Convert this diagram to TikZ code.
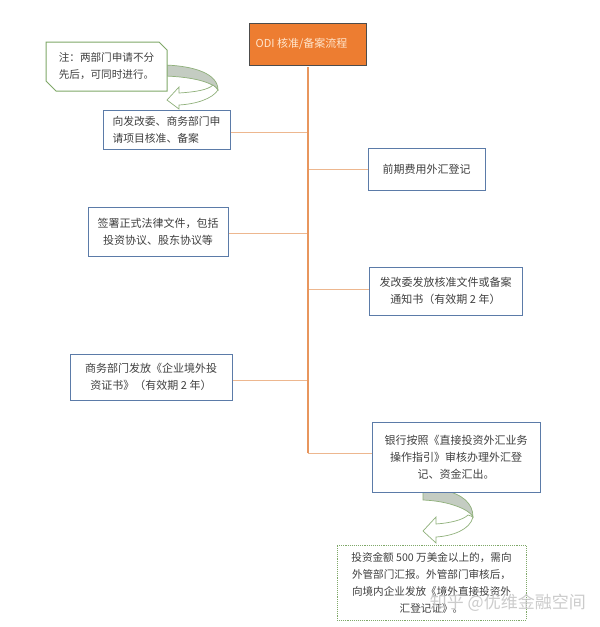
\documentclass[tikz,border=0pt]{standalone}
\usepackage{fontspec}
\setmainfont{Noto Sans CJK SC}
\definecolor{boxblue}{HTML}{5B7BA8}
\definecolor{linkor}{HTML}{EDB78F}
\definecolor{spinecol}{HTML}{E8965E}
\definecolor{arrgreen}{HTML}{8FB07A}
\definecolor{bandgray}{HTML}{C4CCC2}
\definecolor{notegreen}{HTML}{7FA868}
\definecolor{odiorange}{HTML}{ED7D31}
\begin{document}
\begin{tikzpicture}[x=1pt,y=-1pt,
  every node/.style={inner sep=0pt,align=center,font=\fontsize{11}{17}\selectfont,text=black!75},
  bluebox/.style={draw=boxblue,line width=1pt,fill=white},
  link/.style={draw=linkor,line width=1pt},
  spine/.style={draw=spinecol,line width=2pt},
  band/.style={draw=arrgreen,line width=0.7pt,fill=bandgray},
  head/.style={draw=arrgreen,line width=0.7pt,fill=white}]
\useasboundingbox (0,0) rectangle (600,627);
\fill[white] (0,0) rectangle (600,627);
% curved arrow 1
\path[band] (165,65) .. controls (195,66) and (218,74) .. (218,90) .. controls (214,83) and (195,77) .. (165,76) -- cycle;
\path[head] (167,100) -- (179,87) -- (179,93) .. controls (195,92) and (208,90) .. (213,85) .. controls (215,87) and (217,88) .. (218,90) .. controls (212,99) and (196,104) .. (179,105) -- (179,109) -- cycle;
% curved arrow 2
\path[band] (423,490) -- (443,490) .. controls (462,494) and (473,503) .. (473,517) .. controls (470,510) and (450,501) .. (423,500) -- cycle;
\path[head] (423,531) -- (436,517) -- (436,524) .. controls (450,523) and (463,520) .. (468,515) .. controls (470,516) and (472,516) .. (473,517) .. controls (470,530) and (452,536) .. (436,537) -- (436,543) -- cycle;
% boxes
\node[draw=black!70,line width=0.9pt,fill=odiorange,minimum width=117pt,minimum height=42pt,text=white!80!orange] (odi) at (307.5,44) {\hspace*{-12pt}ODI 核准/备案流程};
\node[bluebox,minimum width=127pt,minimum height=39pt,align=left,font=\fontsize{10.8}{17}\selectfont] (a) at (166.5,129.5) {向发改委、商务部门申\\请项目核准、备案};
\node[bluebox,minimum width=117pt,minimum height=42pt] (b) at (426.5,169) {前期费用外汇登记};
\node[bluebox,minimum width=140pt,minimum height=49pt] (c) at (158,231.5) {签署正式法律文件，包括\\投资协议、股东协议等};
\node[bluebox,minimum width=153pt,minimum height=48pt] (d) at (445.5,291) {发改委发放核准文件或备案\\通知书（有效期 2 年）};
\node[bluebox,minimum width=162pt,minimum height=46pt] (e) at (151,377) {商务部门发放《企业境外投\\资证书》（有效期 2 年）};
\node[bluebox,minimum width=168pt,minimum height=70pt] (f) at (456,457) {银行按照《直接投资外汇业务\\操作指引》审核办理外汇登\\记、资金汇出。};
\node[draw=notegreen,densely dotted,line width=0.9pt,fill=white,minimum width=189pt,minimum height=75pt,font=\fontsize{10.6}{17}\selectfont] (g) at (431.5,582.5) {投资金额 500 万美金以上的，需向\\外管部门汇报。外管部门审核后，\\向境内企业发放《境外直接投资外\\汇登记证》。};
\coordinate (top) at (307.5,67);
\coordinate (bot) at (307.5,453);
\coordinate (ja) at (307.5,132);
\coordinate (jb) at (307.5,169);
\coordinate (jc) at (307.5,233);
\coordinate (jd) at (307.5,289);
\coordinate (je) at (307.5,380);
\coordinate (jf) at (307.5,453);
\draw[link] (a.east |- ja) -- (ja);
\draw[link] (jb) -- (b.west |- jb);
\draw[link] (c.east |- jc) -- (jc);
\draw[link] (jd) -- (d.west |- jd);
\draw[link] (e.east |- je) -- (je);
\draw[link] (jf) -- (f.west |- jf);
\draw[spine] (top) -- (bot);
% note with snipped corners
\path[draw=notegreen,line width=1pt,fill=white] (46,42) -- (159,42) -- (167,50) -- (167,91) -- (56,91) -- (46,81) -- cycle;
\node[font=\fontsize{10.6}{17}\selectfont] (n) at (106.5,66.5) {注：两部门申请不分\\先后，可同时进行。};
\node[font=\fontsize{17}{18}\selectfont,text=black!25,text opacity=0.8,anchor=east] (w) at (586,603) {知乎 @优维金融空间};
\end{tikzpicture}
\end{document}
